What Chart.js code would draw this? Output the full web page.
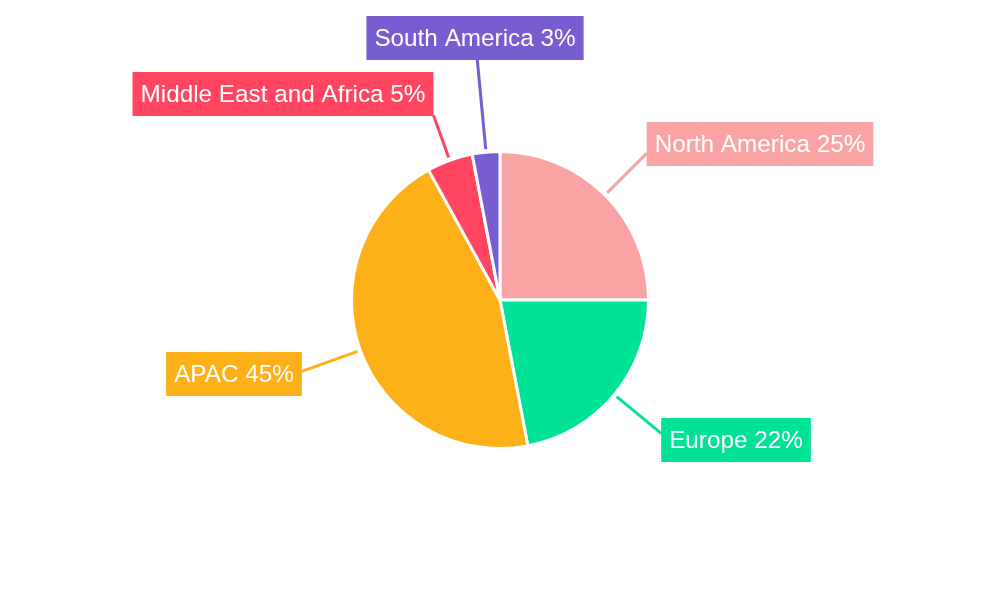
<!DOCTYPE html>
<html lang="en">
<head>
    <meta charset="UTF-8">
    <title>Revenue by Region</title>
    <script src="https://cdn.jsdelivr.net/npm/chart.js"></script>
    <style>
        html, body {
            margin: 0;
            padding: 0;
            background: #ffffff;
        }
        .chart-container {
            width: 1000px;
            height: 600px;
        }
    </style>
</head>
<body>
<div class="chart-container">
    <canvas id="regionChart" width="1000" height="600"></canvas>
</div>

<script>
    // data
    const regions = ['North America', 'Europe', 'APAC', 'Middle East and Africa', 'South America'];
    const shares = [25, 22, 45, 5, 3];
    const colors = ['#F9A3A4', '#00E396', '#FEB019', '#FF4560', '#775DD0'];

    // where each label box sits, relative to the pie centre (px)
    const labelOffsets = [
        [260, -156],
        [236, 140],
        [-266, 74],
        [-217, -206],
        [-25, -262]
    ];

    const total = shares.reduce((a, b) => a + b, 0);

    const calloutLabels = {
        id: 'calloutLabels',
        afterDatasetsDraw(chart) {
            const ctx = chart.ctx;
            const meta = chart.getDatasetMeta(0);
            ctx.save();
            ctx.font = '24.3px "Liberation Sans", Arial, sans-serif';
            ctx.textBaseline = 'middle';
            ctx.textAlign = 'center';

            meta.data.forEach((arc, i) => {
                const p = arc.getProps(['x', 'y', 'startAngle', 'endAngle', 'outerRadius'], true);
                const mid = (p.startAngle + p.endAngle) / 2;
                const dx = Math.cos(mid), dy = Math.sin(mid);
                const sx = p.x + dx * (p.outerRadius + 3);
                const sy = p.y + dy * (p.outerRadius + 3);

                const text = regions[i] + ' ' + Math.round(shares[i] / total * 100) + '%';
                const w = ctx.measureText(text).width + 16;
                const h = 44;
                const cx = p.x + labelOffsets[i][0];
                const cy = p.y + labelOffsets[i][1];
                const left = cx - w / 2, right = cx + w / 2;
                const top = cy - h / 2, bottom = cy + h / 2;

                // ray from slice edge to box (slab test)
                let tmin = 0, tmax = 10000;
                [[dx, sx, left, right], [dy, sy, top, bottom]].forEach(([d, s, lo, hi]) => {
                    if (Math.abs(d) < 1e-9) return;
                    let t1 = (lo - s) / d, t2 = (hi - s) / d;
                    if (t1 > t2) [t1, t2] = [t2, t1];
                    tmin = Math.max(tmin, t1);
                    tmax = Math.min(tmax, t2);
                });
                const t = tmin <= tmax ? tmin : Math.hypot(cx - sx, cy - sy);

                ctx.strokeStyle = colors[i];
                ctx.lineWidth = 3;
                ctx.beginPath();
                ctx.moveTo(sx, sy);
                ctx.lineTo(sx + dx * t, sy + dy * t);
                ctx.stroke();

                ctx.fillStyle = colors[i];
                ctx.fillRect(left, top, w, h);
                ctx.fillStyle = '#ffffff';
                ctx.fillText(text, cx, cy + 1);
            });
            ctx.restore();
        }
    };

    new Chart(document.getElementById('regionChart').getContext('2d'), {
        type: 'pie',
        data: {
            labels: regions,
            datasets: [{
                data: shares,
                backgroundColor: colors,
                borderColor: '#ffffff',
                borderWidth: 3
            }]
        },
        options: {
            responsive: false,
            animation: false,
            layout: {
                padding: { top: 150, bottom: 150 }
            },
            plugins: {
                legend: { display: false },
                tooltip: { enabled: false }
            }
        },
        plugins: [calloutLabels]
    });
</script>
</body>
</html>
